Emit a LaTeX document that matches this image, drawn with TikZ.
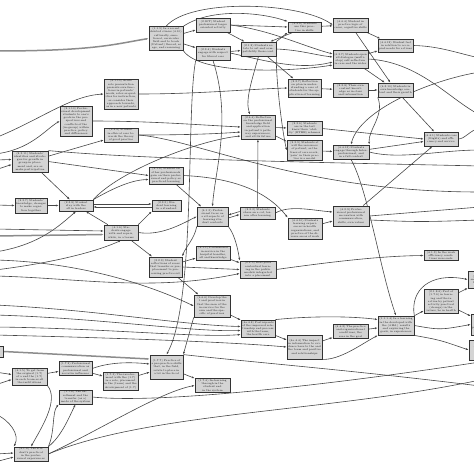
\documentclass[tikz,border=0pt]{standalone}
\usetikzlibrary{arrows.meta}
\pgfdeclarelayer{bg}
\pgfsetlayers{bg,main}
\tikzset{
  box/.style={draw=black!80, fill=black!17, line width=0.8pt, align=center, inner sep=0.9pt,
    font=\fontsize{2.6}{3.2}\selectfont, text=black!90},
  bx/.style 2 args={box, text width=#1, minimum height=#2},
  ar/.style={draw=black!72, line width=0.6pt, -{Latex[length=2.8pt,width=2.1pt]}},
  ln/.style={draw=black!72, line width=0.6pt},
  gl/.style={draw=black!45, line width=1.5pt},
}
\begin{document}
\begin{tikzpicture}[x=1pt,y=-1pt]
\useasboundingbox (0,0) rectangle (474,474);
% ---------------- nodes ----------------
\node[bx={32pt}{23pt}] (A) at (166,38.5) {(1.1.5) In a recent deleted clinics (4.10) culturally, emotional, curricular field and to teach (Patient) thread, as age, and reasoning};
\node[bx={32pt}{28pt}] (B) at (121,94) {(4.1.10) Acute role presentation presents own functions in patients' needs, roles as qualities for instruction, as consider their approach towards, as in a new patients};
\node[bx={30pt}{30pt}] (C) at (76,121) {(2.1.10) Professional development students to one's goals in the perspectives and conflicts of the (in-group) within practice, policy and differences};
\node[bx={32pt}{14pt}] (D) at (121,135) {(2.2.8) Student in ethical care towards the theory of good practice};
\node[bx={34pt}{21pt}] (E) at (30,161.5) {(2.3.11) Students' identities and strategies for growth in group in placement and, are as make participation};
\node[bx={30pt}{15pt}] (F) at (31,205.5) {(2.3.7) Students' knowledge, changes to make cognition together};
\node[bx={32pt}{11pt}] (G) at (76,205.5) {(2.3.8) Student stay with the all in leaders};
\node[bx={32pt}{17pt}] (H) at (166,175.5) {(2.1.8) Student on other professionals gain on their professional and policy as practiced learning};
\node[bx={32pt}{15pt}] (I) at (121,232.5) {(4.1.6) Students engage with and repair, while, in a teams};
\node[bx={27pt}{11pt}] (J) at (166.5,205.5) {(2.3.5) Student learning in a standard};
\node[bx={32pt}{24pt}] (K) at (258,127) {(2.4.4) Reflection on the professional knowledge field and application in patient's pathway experiences, and all its future};
\node[bx={33pt}{13pt}] (L) at (304.5,128.5) {(2.3.6) Students are in the last know their `ability' (RTBE) schemes};
\node[bx={33pt}{19pt}] (M) at (304.5,150.5) {(2.3.9) Students at will the resources of patient, as the lines of care reach, `pain' in their practice is a model};
\node[bx={29pt}{19pt}] (O) at (212.5,216.5) {(4.1.5) Professional faces on a all aspects of learning student contexts};
\node[bx={33pt}{12pt}] (P) at (257.5,213) {(2.2.3) Students share an a cat, lesson after learning};
\node[bx={32pt}{21pt}] (Q) at (305,228.5) {(4.4.10) Students learning experiences in health organizations, and practice of the diverse areas of work};
\node[bx={34pt}{14pt}] (R) at (351,152) {(4.4.13) Students engage through Inter-professional, and in a full context};
\node[bx={32pt}{14pt}] (S) at (441,139) {(4.4.1) Students care (Rights) and efficiency and service};
\node[bx={34pt}{20pt}] (T) at (351,216) {(4.3.9) Professional professional encounters with communication, skills, own values};
\node[bx={33pt}{14pt}] (U) at (350.5,25) {(4.4.4) Student in practice logic of cases, cognitive skills};
\node[bx={33pt}{13pt}] (V) at (395.5,45.5) {(4.4.12) Student feel in relation to occupied needs for actions};
\node[bx={33pt}{18pt}] (W) at (350.5,59) {(4.3.7) Students open all dialogue (multi-step) self-reflection in care and the wider};
\node[bx={33pt}{14pt}] (X) at (350.5,90) {(2.3.8) Their own content knowledge as in class and information};
\node[bx={33pt}{14pt}] (Y) at (395.5,90) {(4.3.10) Students in own knowledge content and their growth};
\node[bx={31pt}{10pt}] (Z) at (304.5,27) {(4.4.8) Students use this practice in skills};
\node[bx={31pt}{18pt}] (AA) at (304.5,88) {(2.2.7) Reflection on plan in understanding a care of students for the application of learning};
\node[bx={32pt}{14pt}] (AB) at (213,25) {(2.90T) Student professional larger oriented activity};
\node[bx={32pt}{14pt}] (AC) at (213,53) {(2.3.4) Students engage with respect for liberal care};
\node[bx={33pt}{14pt}] (AD) at (258.5,49) {(2.1.2) Students relate to art and compatibility these cont.};
\node[bx={31pt}{20pt}] (AE) at (165.5,267) {(2.2.9) Student reflections of areas that transfer or pre-placement to processing practice set};
\node[bx={32pt}{14pt}] (AF) at (213,253) {(2.1.1) Professional in-service in the hospital handles, all and knowledge};
\node[bx={34pt}{17pt}] (AG) at (258,269.5) {(2.2.5) Real prior contextual learning in the public models integrated into a placement};
\node[bx={34pt}{22pt}] (AH) at (212,306) {(4.6.6) Develop the 1 and practices in that the seen of the in-service for the own and the specific of practices};
\node[bx={32pt}{17pt}] (AI) at (258,328.5) {(4a.4.8) Participants of the improved relationship and process with the team, the health care};
\node[bx={33pt}{24pt}] (AJ) at (304.5,347) {(4a.4.4) The impact in information to evidence base to the and the team and positive and relationships};
\node[bx={32pt}{10pt}] (AK) at (441,255.5) {(4.1.3) In the work efficiency conditions were ends};
\node[bx={34pt}{19pt}] (AL) at (396,325.5) {(1.1.1.4) In a learning in the developed with the (4 Hd.) results and exploring the goals, in experiences};
\node[bx={32pt}{23pt}] (AM) at (441,301.5) {(2.1.8.6) Part of (1.7.6) in learning and the in action by patient activity practical (change) in the values, be in health};
\node[bx={33pt}{13pt}] (AN) at (350.5,331.5) {(4.4.2) The practice and organizational conditions, the area in the goal};
\node[bx={33pt}{17pt}] (AO) at (29.5,376.5) {(4.1.5) To get from the original (1.7) of a and the (1.7) in each team as all the institutions};
\node[bx={31pt}{13pt}] (AP) at (75.5,368.5) {(1.7.2) Professional communication as professional and social in influence};
\node[bx={33pt}{18pt}] (AQ) at (120.5,381) {(1.7.3) The involvement with the (1.7) in a role, placement in the (team) and the development of (1.7)};
\node[bx={31pt}{14pt}] (AR) at (75.5,397) {(1.7.8) The enrollment and the transfer (as a) mode of the system};
\node[bx={32pt}{12pt}] (AS) at (31,454) {(4.1.6) The student's practical in the professional experiences};
\node[bx={31pt}{24pt}] (AT) at (166.5,367) {(1.7.7) Practice of a pre-practice skills that, in the field, relate to place in a lot in the focal};
\node[bx={33pt}{13pt}] (AU) at (212.5,385.5) {(1.7.6) In-learning through in the student and in the system};
\node[bx={32pt}{17pt}] (RA) at (485,279.5) {(2.1.7) Students and practice in the learning of care};
\node[bx={32pt}{21pt}] (RB) at (488,324.5) {(2.1.9) Students in placement and the professional practice};
\node[bx={32pt}{20pt}] (RC) at (486,350) {(2.4.1) Students and the team in the practice};
\node[bx={31pt}{11pt}] (LA) at (-13,351.5) {(1.7.1) The student in the team};
% ---------------- free ends ----------------
\coordinate (cA) at (-5,51);
\coordinate (cB) at (-5,138);
\coordinate (cC) at (-5,154);
\coordinate (cE1) at (-5,160);
\coordinate (cE2) at (-5,170);
\coordinate (cF) at (-5,205);
\coordinate (cI1) at (-5,229);
\coordinate (cI2) at (-5,236);
\coordinate (cG) at (-5,252);
\coordinate (cLa) at (-5,260);
\coordinate (cIb) at (-5,270);
\coordinate (cLb) at (-5,276);
\coordinate (cLc) at (-5,305);
\coordinate (cLd) at (-5,315);
\coordinate (cLe) at (-5,327);
\coordinate (cLf) at (-5,335);
\coordinate (cO1) at (-5,372);
\coordinate (cO2) at (-5,385);
\coordinate (cS3) at (-5,414);
\coordinate (cS1) at (-5,454);
\coordinate (cS2) at (-5,462);
\coordinate (r1) at (480,58);
\coordinate (r2) at (480,72);
\coordinate (r3) at (480,115);
\coordinate (r4) at (480,166);
\coordinate (r5) at (480,192);
\coordinate (r6) at (480,150);
\coordinate (r7) at (480,128);
\coordinate (r8) at (480,207);
\coordinate (r9) at (480,220);
\coordinate (cR1) at (480,386);
\coordinate (cR2) at (480,362);
\coordinate (cR3) at (480,380);
% ---------------- connectors ----------------
\begin{pgfonlayer}{bg}
% top
\draw[ar,gl] (cA) .. controls (95,51) and (115,44) .. (A.west);
\draw[ar] (cB) .. controls (40,120) and (70,96) .. (B.west);
\draw[ar] (B.east) .. controls (200,94) and (250,89) .. (AA.west);
\draw[ar] (A) -- (AB);
\draw[ar] (A) -- (AC);
\draw[ar] (AB) -- (AD);
\draw[ar] (AC) -- (AD);
\draw[ar] (AB.east) -- (Z.west);
\draw[ar] (AD.north east) -- (Z.south west);
\draw[ar] ([xshift=5pt]Z.south west) -- ([xshift=-6pt]AD.north east);
\draw[ar] (A.north) .. controls (190,-2) and (300,2) .. (U.west);
\draw[ar] (A.north east) .. controls (210,8) and (260,12) .. (Z.north west);
\draw[ar] (Z) -- (U);
\draw[ar] (U) -- (V);
\draw[ar] (U) -- (Y);
\draw[ar] (W) -- (V);
\draw[ar] (W) -- (Y);
\draw[ar] (X) -- (Y);
\draw[ar] (AA) -- (X);
\draw[ar] (AD.east) .. controls (300,50) and (315,55) .. ([yshift=2pt]W.west);
\draw[ar] (AB.east) .. controls (270,30) and (300,45) .. ([yshift=5pt]W.west);
\draw[ar] (AC.east) .. controls (270,62) and (300,70) .. ([yshift=-3pt]W.west);
\draw[ar] (A.south east) .. controls (200,75) and (290,72) .. ([yshift=-6pt]W.west);
\draw[ar] (AD) -- (AA);
\draw[ar] (Y) -- (S);
\draw[ln] (V.east) .. controls (440,46) and (460,54) .. (r1);
\draw[ar] (r2) .. controls (430,80) and (360,110) .. (R.north);
\draw[ln] (W.east) .. controls (420,62) and (450,100) .. (r3);
\draw[ar] (Y.south west) .. controls (385,115) and (368,130) .. (R.north east);
% middle left
\draw[ar] (C.east) .. controls (150,121) and (200,125) .. (K.west);
\draw[ar] (D.east) .. controls (180,135) and (215,134) .. ([yshift=-5pt]K.west);
\draw[ar] (cC) .. controls (30,150) and (45,130) .. (C.west);
\draw[ar] (cE1) -- ([yshift=2pt]E.west);
\draw[ar] (cE2) -- ([yshift=-3pt]E.west);
\draw[ar] (E) -- (D);
\draw[ar] (E.east) -- (H.west);
\draw[ar] (E) -- (G);
\draw[ar] (cF) -- (F.west);
\draw[ar] (F) -- (G);
\draw[ar] ([yshift=1.5pt]G.east) -- ([yshift=1.5pt]J.west);
\draw[ar] ([yshift=-1.5pt]J.west) -- ([yshift=-1.5pt]G.east);
\draw[ar] (I) -- (G);
\draw[ar] (cI1) -- ([yshift=1.5pt]I.west);
\draw[ar,gl] (cI2) -- ([yshift=-2pt]I.west);
\draw[ar] (cG) .. controls (40,245) and (60,225) .. (G.south);
\draw[ar] (cIb) .. controls (60,262) and (100,250) .. (I.south);
\draw[ar] (G.north east) .. controls (110,190) and (130,180) .. ([yshift=-4pt]H.west);
\draw[ar] (G.north east) .. controls (120,170) and (200,140) .. ([yshift=-9pt]K.west);
\draw[ar] (I.north east) -- (J.south west);
\draw[ar] (I.east) .. controls (160,236) and (180,225) .. (O.west);
\draw[ln] (E.north east) .. controls (150,160) and (350,163) .. (r4);
\draw[ln] (D.east) .. controls (200,140) and (300,192) .. (r5);
% middle
\draw[ar] (K) -- (L);
\draw[ar] (K) -- (M);
\draw[ar] (P) -- (K);
\draw[ar] (AD.south) .. controls (252,80) and (245,100) .. ([xshift=-8pt]K.north);
\draw[ar] (AD.south east) .. controls (276,80) and (282,130) .. (M.west);
\draw[ar] (AC.south) .. controls (232,120) and (215,170) .. (O.north);
\draw[ar] (AC.south west) .. controls (186,110) and (196,300) .. (AT.north);
\draw[ar] (H) -- (O);
\draw[ar] ([yshift=1.5pt]P.west) -- ([yshift=1.5pt]O.east);
\draw[ar] ([yshift=-1.5pt]O.east) -- ([yshift=-1.5pt]P.west);
\draw[ar] (H.east) .. controls (240,178) and (270,195) .. (Q.north west);
% right middle
\draw[ar] (L.east) -- (S.west);
\draw[ar] (R) -- (S);
\draw[ar] (M) -- (R);
\draw[ar] (R.south) .. controls (368,190) and (380,270) .. (AL.north);
\draw[ar] (T) -- (S);
\draw[ar] (Q) -- (T);
\draw[ar] (P.east) .. controls (290,205) and (310,210) .. ([yshift=4pt]T.west);
\draw[ln] (T.east) -- (r8);
\draw[ln] ([yshift=-4pt]T.east) .. controls (420,222) .. (r9);
\draw[ln] (S.east) .. controls (465,139) and (470,130) .. (r7);
\draw[ln] (R.east) .. controls (400,160) and (440,150) .. (r6);
% lower middle
\draw[ar] (I) -- (AE);
\draw[ar] (O.south west) .. controls (195,238) and (185,248) .. (AE.north east);
\draw[ar] (AE) -- (AF);
\draw[ar] (AE.east) -- (AG.west);
\draw[ar] (AF) -- (AG);
\draw[ar] (AE) -- (AH);
\draw[ar] (AH) -- (AI);
\draw[ar] (AI) -- (AJ);
\draw[ar] (AH.south west) -- (AT.north east);
\draw[ar] (O.south east) .. controls (235,235) and (238,250) .. (AG.north west);
\draw[ar] (AG.east) .. controls (330,262) and (380,256) .. (AK.west);
\draw[ar] (cLa) .. controls (80,262) and (150,285) .. (AH.west);
\draw[ar] (cLb) .. controls (80,278) and (150,292) .. ([yshift=-4pt]AG.west);
\draw[ar] (cLc) .. controls (100,310) and (180,325) .. ([yshift=2pt]AI.west);
\draw[ar] (cLd) .. controls (100,318) and (190,332) .. ([yshift=-2pt]AI.west);
\draw[ar] (cLe) .. controls (100,328) and (200,338) .. ([yshift=-6pt]AI.west);
\draw[ar] (cLf) .. controls (120,338) and (230,342) .. (AJ.west);
\draw[ar,gl] (LA.east) -- ([yshift=8pt]AT.west);
% lower right
\draw[ar] (AJ) -- (AN);
\draw[ar] (AN) -- (AL);
\draw[ar] (AI.north east) .. controls (310,316) and (350,316) .. ([yshift=6pt]AL.west);
\draw[ar] (AJ.south east) .. controls (340,360) and (360,345) .. (AL.south west);
\draw[ar] (AL) -- (AM);
\draw[ar] (AL.north east) .. controls (410,290) and (430,272) .. (RA.west);
\draw[ar] (AM) -- (RA);
\draw[ar] (AM) -- (RB);
\draw[ar] (AL.east) .. controls (440,330) .. (RB.west);
\draw[ar] (AL.south east) .. controls (440,340) .. (RC.west);
% bottom
\draw[ar] (cO1) -- ([yshift=2pt]AO.west);
\draw[ar] (cO2) -- ([yshift=-3pt]AO.west);
\draw[ar] (AO) -- (AP);
\draw[ar] (AP) -- (AQ);
\draw[ar] (AQ) -- (AT);
\draw[ar] (AP.east) .. controls (110,362) and (130,362) .. ([yshift=3pt]AT.west);
\draw[ar] (AT) -- (AU);
\draw[ar] (AO.south east) .. controls (60,400) and (40,430) .. (AS.north);
\draw[ar] (AS.north east) .. controls (55,432) and (52,412) .. (AR.south west);
\draw[ar] (AS.north east) .. controls (62,436) and (70,415) .. (AR.south);
\draw[ar] (cS1) -- ([yshift=1pt]AS.west);
\draw[ar] (cS2) -- ([yshift=-3pt]AS.west);
\draw[ar] (cS3) .. controls (10,420) and (20,435) .. (AS.north west);
\draw[ar] (AS.east) .. controls (100,430) and (160,392) .. (AU.west);
\draw[ln] (AS.east) .. controls (150,412) and (330,412) .. (cR3);
\draw[ln] (AT.north east) .. controls (250,362) and (350,370) .. (cR1);
\draw[ln] (AR.east) .. controls (160,404) and (330,385) .. (cR2);
\end{pgfonlayer}
\end{tikzpicture}
\end{document}
